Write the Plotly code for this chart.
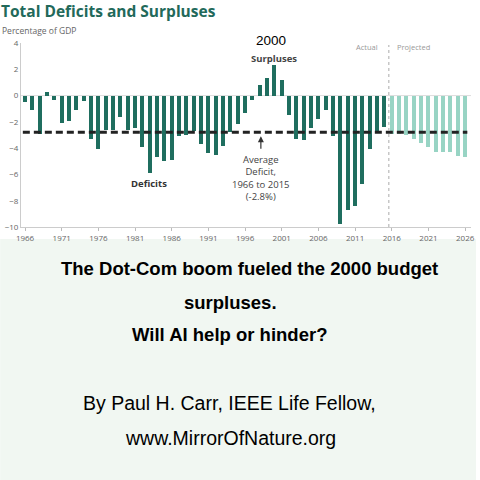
import plotly.graph_objects as go

actual_years = list(range(1966, 2016))
actual_values = [-0.5, -1.1, -2.9, 0.3, -0.3, -2.1, -1.9, -1.1, -0.4, -3.3,
                 -4.1, -2.6, -2.6, -1.6, -2.6, -2.5, -3.9, -5.9, -4.7, -5.0,
                 -4.9, -3.1, -3.0, -2.7, -3.7, -4.4, -4.5, -3.8, -2.8, -2.2,
                 -1.3, -0.3, 0.8, 1.3, 2.3, 1.2, -1.5, -3.3, -3.4, -2.5,
                 -1.8, -1.1, -3.1, -9.8, -8.7, -8.4, -6.7, -4.1, -2.8, -2.4]
projected_years = list(range(2016, 2027))
projected_values = [-2.9, -2.9, -3.0, -3.3, -3.6, -3.9, -4.3, -4.3, -4.3, -4.6, -4.7]
average_deficit = -2.8
tick_years = list(range(1966, 2027, 5))
y_ticks = [4, 2, 0, -2, -4, -6, -8, -10]

W, H = 480, 480
L, R, T, B = 21, 475, 43, 227
XR = [1965.45, 2026.8]
YR = [-10, 4]

def px(x):
    return (x - L) / (R - L)

def py(y):
    return (B - y) / (B - T)

def xdata(p):
    return XR[0] + (p - L) / (R - L) * (XR[1] - XR[0])

DARK = "#1f6e5f"
LIGHT = "#98d4c4"
GRAY = "#666666"
NARROW = "Liberation Sans Narrow, Liberation Sans, Arial, sans-serif"

fig = go.Figure()
fig.add_trace(go.Bar(x=actual_years, y=actual_values, marker_color=DARK,
                     width=0.55, marker_line_width=0))
fig.add_trace(go.Bar(x=projected_years, y=projected_values, marker_color=LIGHT,
                     width=0.55, marker_line_width=0))
fig.add_trace(go.Scatter(x=[actual_years[0] - 0.3, projected_years[-1] + 0.3],
                         y=[average_deficit, average_deficit], mode="lines",
                         line=dict(color="#222222", width=3, dash="7px,4px")))

shapes = [
    dict(type="rect", xref="paper", yref="paper", x0=px(0), x1=px(W),
         y0=py(H), y1=py(239), fillcolor="#f1f7f2", line_width=0, layer="below"),
    dict(type="line", xref="x", yref="paper", x0=2015.6, x1=2015.6,
         y0=0, y1=py(45), line=dict(color="#aaaaaa", width=1, dash="dot")),
    dict(type="line", xref="paper", yref="y", x0=0, x1=1, y0=0, y1=0,
         line=dict(color="#dddddd", width=1), layer="below"),
]

ann = []
def text(t, x, y, size, color="#000", bold=False, family="Open Sans", xanchor="center"):
    if bold:
        t = "<b>" + t + "</b>"
    ann.append(dict(text=t, x=px(x), y=py(y), xref="paper", yref="paper",
                    showarrow=False, xanchor=xanchor, yanchor="middle",
                    font=dict(size=size, color=color, family=family)))

text("Total Deficits and Surpluses", -1, 11, 15.5, "#22695a", True, xanchor="left")
text("Percentage of GDP", 0, 31, 8.5, GRAY, xanchor="left")
text("2000", 273, 40, 13.5, "#000", family=NARROW)
text("Surpluses", 276, 58, 9.5, "#444", True)
text("Deficits", 150, 183, 9.5, "#333", True)
text("Average<br>Deficit,<br>1966 to 2015<br>(-2.8%)", 263, 178, 9.5, "#444")
text("Actual", 370, 47, 7.5, "#999")
text("Projected", 417, 47, 7.5, "#999")
text("The Dot-Com boom fueled the 2000 budget", 252, 268, 18.5, "#000", True, NARROW)
text("surpluses.", 232, 302, 18.5, "#000", True, NARROW)
text("Will AI help or hinder?", 231, 334, 18.5, "#000", True, NARROW)
text("By Paul H. Carr, IEEE Life Fellow,", 231, 403, 19.5, "#000", False, NARROW)
text("www.MirrorOfNature.org", 232, 438, 19.5, "#000", False, NARROW)

ann.append(dict(x=xdata(263), y=average_deficit - 0.3, xref="x", yref="y", text="",
                showarrow=True, arrowhead=2, arrowsize=1, arrowwidth=1.2,
                arrowcolor="#333", ax=0, ay=14))

fig.update_layout(
    width=W, height=H, margin=dict(l=L, r=W - R, t=T, b=H - B),
    paper_bgcolor="white", plot_bgcolor="rgba(0,0,0,0)",
    showlegend=False, barmode="overlay", bargap=0,
    shapes=shapes, annotations=ann,
    font=dict(family="Open Sans"),
)
fig.update_xaxes(range=XR, tickvals=tick_years, ticktext=[str(y) for y in tick_years],
                 showgrid=False, zeroline=False, showline=True, linecolor="#cccccc",
                 ticks="outside", ticklen=3, tickcolor="#bbbbbb",
                 tickfont=dict(size=8, color=GRAY), ticklabelstandoff=0)
fig.update_yaxes(range=YR, tickvals=y_ticks, showgrid=False, zeroline=False,
                 showline=True, linecolor="#cccccc", ticks="",
                 tickfont=dict(size=8, color=GRAY))

fig.write_html("out.html", config={"displayModeBar": False},
               post_script="document.body.style.margin='0';document.body.style.overflow='hidden';")
